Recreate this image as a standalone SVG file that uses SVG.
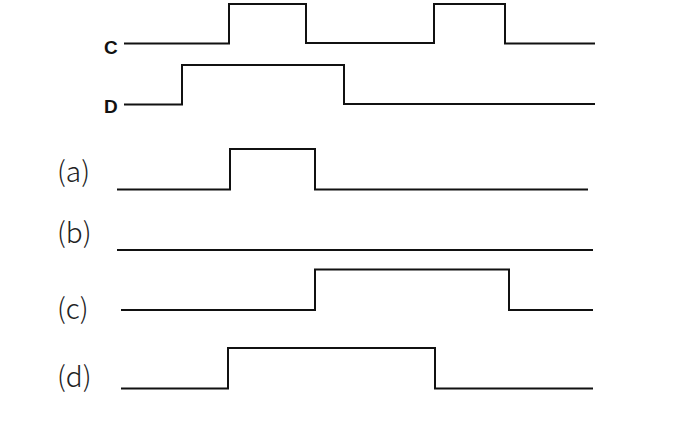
<svg xmlns="http://www.w3.org/2000/svg" width="700" height="426" viewBox="0 0 700 426">
<style>
.w{fill:none;stroke:#111;stroke-width:2;stroke-linejoin:miter}
.sig{font-family:"Liberation Sans",Arial,sans-serif;font-weight:bold;font-size:19px;fill:#111}
.lab{font-family:"Noto Sans CJK JP","Noto Sans",sans-serif;font-weight:300;font-size:28px;fill:#222}
</style>
<rect width="700" height="426" fill="#fff"/>
<g id="C"><text class="sig" x="104" y="53.5">C</text></g>
<g id="D"><text class="sig" x="104" y="113">D</text></g>
<g id="a"><text class="lab" x="57" y="182">(a)</text></g>
<g id="b"><text class="lab" x="57" y="243">(b)</text></g>
<g id="c"><text class="lab" x="57" y="319">(c)</text></g>
<g id="d"><text class="lab" x="57" y="387">(d)</text></g>
<g id="waves">
<path class="w" d="M124 43.5H229V4H306V43H434V4H505V43.5H595"/>
<path class="w" d="M124 104.5H182V65H344V104H595"/>
<path class="w" d="M117 189.5H230V149H315V189.5H588"/>
<path class="w" d="M117 250H593"/>
<path class="w" d="M121 310H315V269.5H509V310H593"/>
<path class="w" d="M121 388.5H228V348H435V388.5H593"/>
</g>
</svg>
